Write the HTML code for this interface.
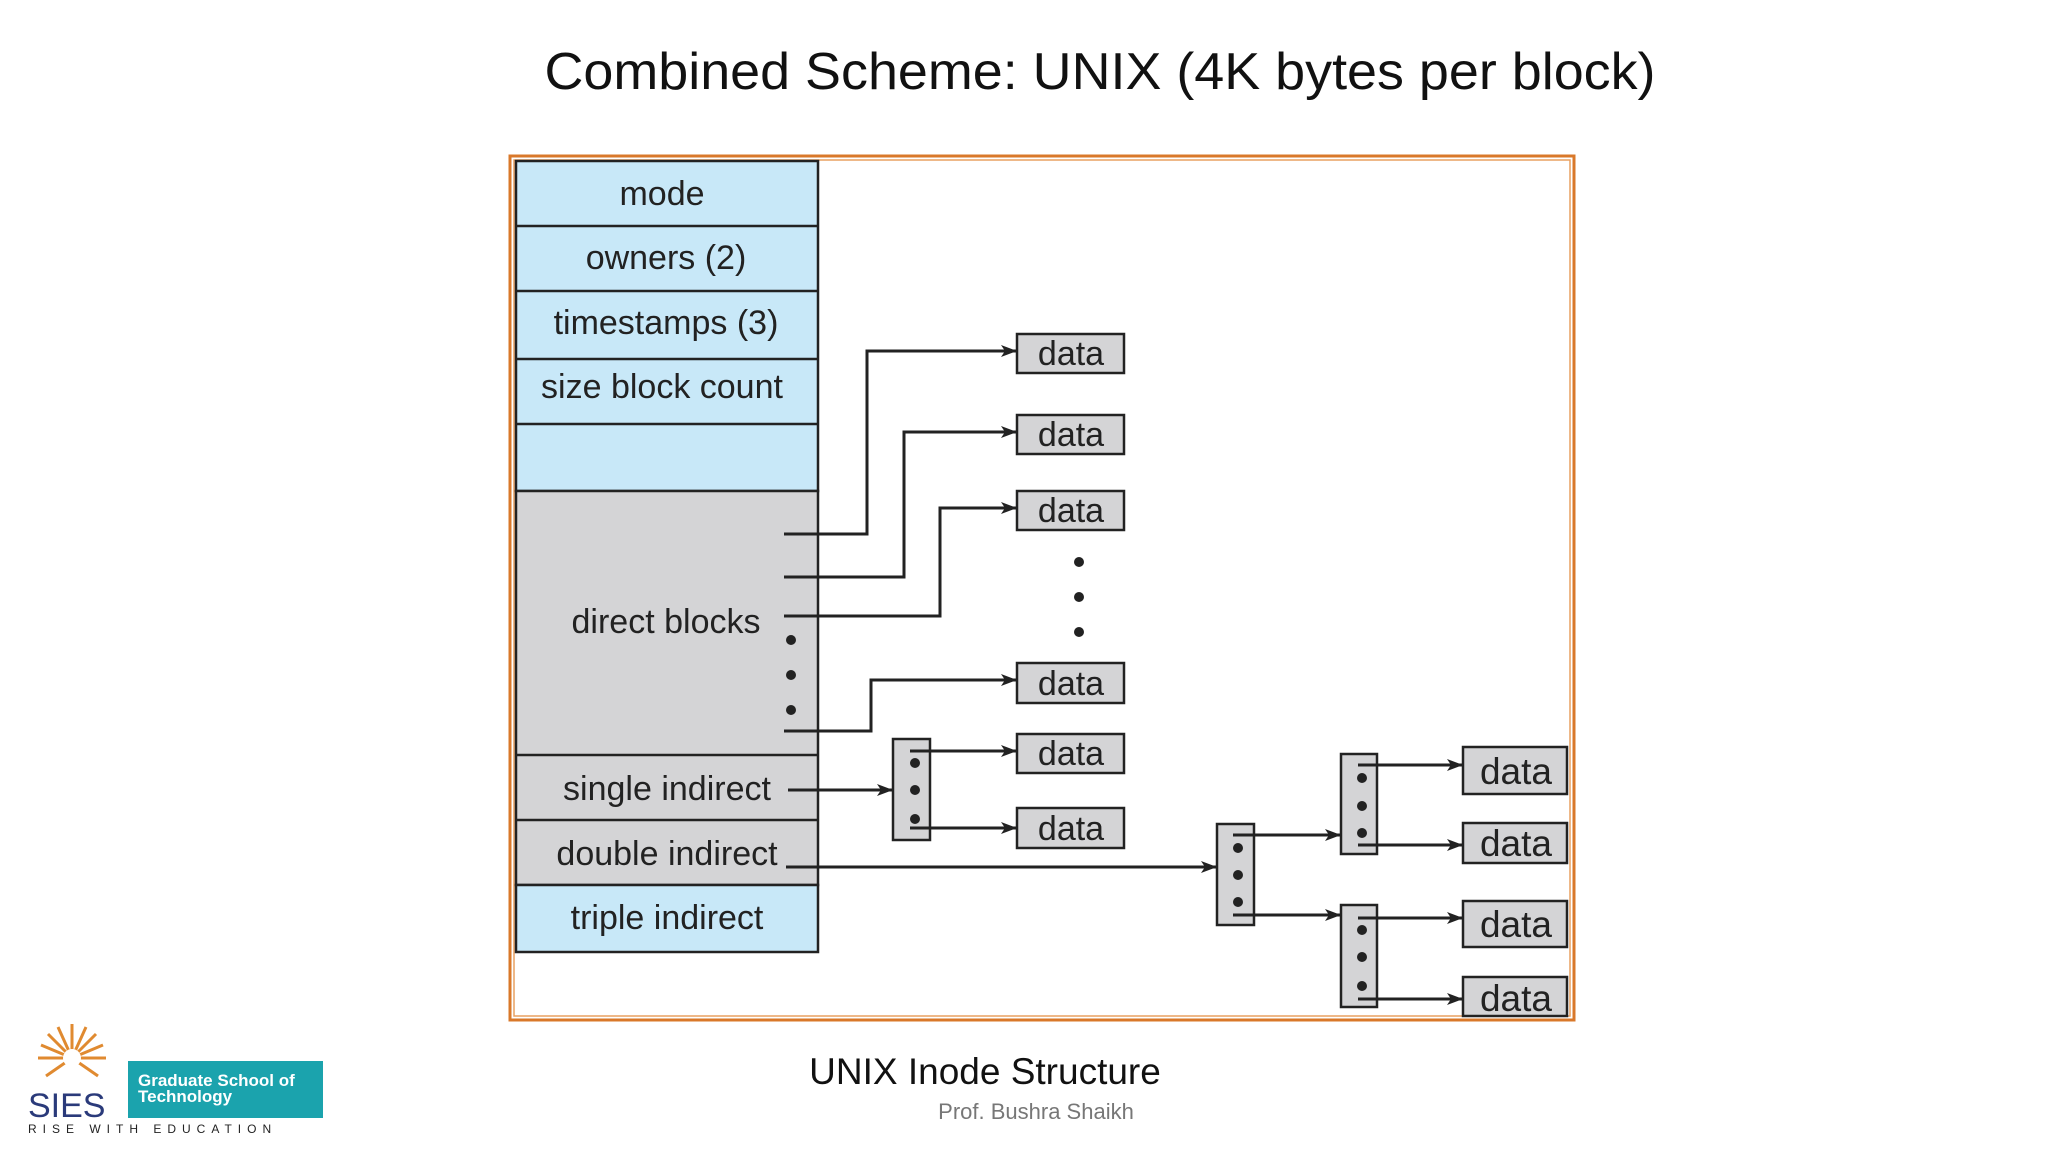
<!DOCTYPE html>
<html><head><meta charset="utf-8"><style>
html,body{margin:0;padding:0;background:#fff;width:2048px;height:1152px;overflow:hidden}
svg{display:block}
text{font-family:"Liberation Sans",sans-serif}
</style></head><body>
<svg width="2048" height="1152" viewBox="0 0 2048 1152" xmlns="http://www.w3.org/2000/svg">
<defs>
<marker id="a" viewBox="0 0 16 12" refX="16" refY="6" markerWidth="16" markerHeight="12" markerUnits="userSpaceOnUse" orient="auto">
<path d="M0,0 L16,6 L0,12 L4,6 Z" fill="#222"/></marker>
</defs>
<text x="1100" y="89" text-anchor="middle" font-size="52" textLength="1111" lengthAdjust="spacingAndGlyphs" fill="#111">Combined Scheme:  UNIX (4K bytes per block)</text>
<rect x="510" y="156" width="1064" height="864" fill="none" stroke="#d9782a" stroke-width="3"/>
<rect x="514" y="160" width="1056" height="856" fill="none" stroke="#e8a060" stroke-width="1.5"/>
<g stroke="#222" stroke-width="2.5">
<rect x="516" y="161" width="302" height="330" fill="#c8e8f8"/>
<rect x="516" y="491" width="302" height="394" fill="#d4d4d6"/>
<rect x="516" y="885" width="302" height="67" fill="#c8e8f8"/>
<line x1="516" y1="226" x2="818" y2="226"/><line x1="516" y1="291" x2="818" y2="291"/>
<line x1="516" y1="359" x2="818" y2="359"/><line x1="516" y1="424" x2="818" y2="424"/>
<line x1="516" y1="755" x2="818" y2="755"/><line x1="516" y1="820" x2="818" y2="820"/>
</g>
<g font-size="34" fill="#222" text-anchor="middle">
<text x="662" y="205">mode</text>
<text x="666" y="269">owners (2)</text>
<text x="666" y="334">timestamps (3)</text>
<text x="662" y="398">size block count</text>
<text x="666" y="633">direct blocks</text>
<text x="667" y="800">single indirect</text>
<text x="667" y="865">double indirect</text>
<text x="667" y="929">triple indirect</text>
</g>
<g fill="#222">
<circle cx="791" cy="640" r="5"/><circle cx="791" cy="675" r="5"/><circle cx="791" cy="710" r="5"/>
<circle cx="1079" cy="562" r="5"/><circle cx="1079" cy="597" r="5"/><circle cx="1079" cy="632" r="5"/>
</g>
<g stroke="#222" stroke-width="2.5" fill="#d4d4d6">
<rect x="1017" y="334" width="107" height="39"/><rect x="1017" y="415" width="107" height="39"/>
<rect x="1017" y="491" width="107" height="39"/><rect x="1017" y="663" width="107" height="40"/>
<rect x="1017" y="734" width="107" height="39"/><rect x="1017" y="808" width="107" height="40"/>
<rect x="893" y="739" width="37" height="101"/>
<rect x="1217" y="824" width="37" height="101"/>
<rect x="1341" y="754" width="36" height="100"/><rect x="1341" y="905" width="36" height="102"/>
<rect x="1463" y="747" width="104" height="47"/><rect x="1463" y="823" width="104" height="40"/>
<rect x="1463" y="901" width="104" height="46"/><rect x="1463" y="977" width="104" height="39"/>
</g>
<g font-size="34" fill="#222" text-anchor="middle">
<text x="1071" y="365">data</text><text x="1071" y="446">data</text><text x="1071" y="522">data</text>
<text x="1071" y="695">data</text><text x="1071" y="765">data</text><text x="1071" y="840">data</text>
</g>
<g font-size="37" fill="#222" text-anchor="middle">
<text x="1516" y="784">data</text><text x="1516" y="856">data</text>
<text x="1516" y="937">data</text><text x="1516" y="1011">data</text>
</g>
<g fill="#222">
<circle cx="915" cy="763" r="5"/><circle cx="915" cy="790" r="5"/><circle cx="915" cy="819" r="5"/>
<circle cx="1238" cy="848" r="5"/><circle cx="1238" cy="875" r="5"/><circle cx="1238" cy="902" r="5"/>
<circle cx="1362" cy="778" r="5"/><circle cx="1362" cy="806" r="5"/><circle cx="1362" cy="833" r="5"/>
<circle cx="1362" cy="930" r="5"/><circle cx="1362" cy="957" r="5"/><circle cx="1362" cy="986" r="5"/>
</g>
<g stroke="#222" stroke-width="3" fill="none" marker-end="url(#a)">
<polyline points="784,534 867,534 867,351 1017,351"/>
<polyline points="784,577 904,577 904,432 1017,432"/>
<polyline points="784,616 940,616 940,508 1017,508"/>
<polyline points="784,731 871,731 871,680 1017,680"/>
<line x1="788" y1="790" x2="893" y2="790"/>
<line x1="910" y1="751" x2="1017" y2="751"/>
<line x1="910" y1="828" x2="1017" y2="828"/>
<line x1="786" y1="867" x2="1217" y2="867"/>
<line x1="1233" y1="835" x2="1341" y2="835"/>
<line x1="1233" y1="915" x2="1341" y2="915"/>
<line x1="1358" y1="765" x2="1463" y2="765"/>
<line x1="1358" y1="845" x2="1463" y2="845"/>
<line x1="1358" y1="918" x2="1463" y2="918"/>
<line x1="1358" y1="999" x2="1463" y2="999"/>
</g>
<text x="985" y="1084" text-anchor="middle" font-size="37" fill="#111">UNIX Inode Structure</text>
<text x="1036" y="1119" text-anchor="middle" font-size="22" fill="#777">Prof. Bushra Shaikh</text>
<g stroke="#e08a30" stroke-width="3">
<line x1="72" y1="1058" x2="72" y2="1024"/><line x1="72" y1="1058" x2="96" y2="1034"/>
<line x1="72" y1="1058" x2="106" y2="1058"/><line x1="72" y1="1058" x2="48" y2="1034"/>
<line x1="72" y1="1058" x2="38" y2="1058"/><line x1="72" y1="1058" x2="86" y2="1027"/>
<line x1="72" y1="1058" x2="58" y2="1027"/><line x1="72" y1="1058" x2="103" y2="1045"/>
<line x1="72" y1="1058" x2="41" y2="1045"/><line x1="72" y1="1058" x2="98" y2="1076"/>
<line x1="72" y1="1058" x2="46" y2="1076"/>
</g>
<circle cx="72" cy="1058" r="9" fill="#fff"/>
<rect x="128" y="1061" width="195" height="57" fill="#1ba3ad"/>
<text x="138" y="1086" font-family="Liberation Serif,serif" font-size="17" font-weight="bold" fill="#fff">Graduate School of</text>
<text x="138" y="1102" font-family="Liberation Serif,serif" font-size="17" font-weight="bold" fill="#fff">Technology</text>
<text x="28" y="1117" font-family="Liberation Serif,serif" font-size="34" fill="#2a3a7a">SIES</text>
<text x="28" y="1133" font-family="Liberation Serif,serif" font-size="12" letter-spacing="6" fill="#222">RISE WITH EDUCATION</text>
</svg>
</body></html>
